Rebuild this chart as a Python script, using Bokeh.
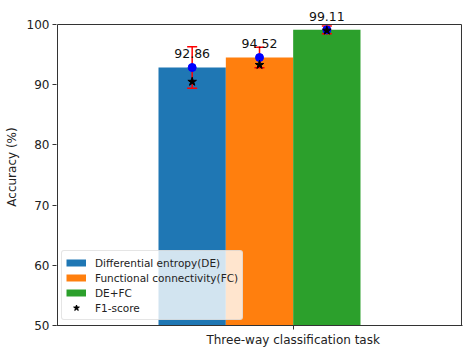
from bokeh.plotting import figure
from bokeh.models import ColumnDataSource, LabelSet, Legend, LegendItem, FixedTicker
from bokeh.core.properties import value
from bokeh.embed import file_html
from bokeh.resources import INLINE

methods = ["Differential entropy(DE)", "Functional connectivity(FC)", "DE+FC"]
positions = [0, 1, 2]
accuracy = [92.86, 94.52, 99.11]
acc_std = [3.45, 1.7, 0.65]
f1_score = [90.5, 93.3, 99.0]
colors = ["#1f77b4", "#ff7f0e", "#2ca02c"]
acc_labels = ["92.86", "94.52", "99.11"]
task_tick = 1.5
task_label = "Three-way classification task"
y_ticks = [50, 60, 70, 80, 90, 100]
x_lo, x_hi = -2, 4
y_lo, y_hi = 50, 100

src = ColumnDataSource(dict(
    x=positions, acc=accuracy, color=colors,
    upper=[a + s for a, s in zip(accuracy, acc_std)],
    lower=[a - s for a, s in zip(accuracy, acc_std)],
    f1=f1_score, lab=acc_labels,
    laby=[a + 1.5 for a in accuracy],
))

# frame extends a little above 100 so the top value label can be drawn; the
# visible box (50..100) is drawn with segments
p = figure(width=474, height=355,
           x_range=(x_lo - 1 / 67, x_hi + 1 / 67), y_range=(y_lo, 102.66),
           output_backend="svg", toolbar_location=None,
           min_border_left=56, min_border_right=12, min_border_top=8, min_border_bottom=30)
p.grid.visible = False
p.outline_line_color = None
p.background_fill_color = "white"

font = "DejaVu Sans"
for ax in (p.xaxis[0], p.yaxis[0]):
    ax.major_label_text_font = font
    ax.major_label_text_font_size = "12px"
    ax.major_label_text_color = "#222222"
    ax.axis_line_color = "#333333"
    ax.major_tick_line_color = "#333333"
    ax.major_tick_out = 4
    ax.major_tick_in = 0
    ax.minor_tick_line_color = None

p.yaxis.ticker = FixedTicker(ticks=y_ticks)
p.yaxis.axis_label = "Accuracy (%)"
p.yaxis.axis_label_text_font = font
p.yaxis.axis_label_text_font_size = "12px"
p.yaxis.axis_label_text_font_style = "normal"
p.yaxis.axis_label_text_color = "#222222"
p.yaxis.axis_label_standoff = 5
p.yaxis.major_label_standoff = 3
p.yaxis.axis_line_color = None

p.xaxis.ticker = FixedTicker(ticks=[task_tick])
p.xaxis.major_label_overrides = {task_tick: task_label}
p.xaxis.major_label_standoff = 3
p.xaxis.axis_label = None
p.xaxis.axis_label_standoff = 0

bars = []
for i in range(3):
    bars.append(p.vbar(x=[positions[i]], top=[accuracy[i]], bottom=0, width=1.0,
                       fill_color=colors[i], line_color=None))

# error bars: stem + caps
p.segment(x0="x", y0="lower", x1="x", y1="upper", source=src, line_color="red", line_width=1.5)
p.scatter(x="x", y="upper", source=src, marker="dash", size=10, line_color="red", line_width=1.5)
p.scatter(x="x", y="lower", source=src, marker="dash", size=10, line_color="red", line_width=1.5)

p.scatter(x="x", y="acc", source=src, marker="circle", size=8, fill_color="blue", line_color="blue")
star = p.scatter(x="x", y="f1", source=src, marker="star", size=9, fill_color="black", line_color="black")

labels = LabelSet(x="x", y="laby", text="lab", source=src, text_align="center",
                  text_baseline="bottom", text_font=value(font), text_font_size="12.5px",
                  text_color="#111111")
p.add_layout(labels)

# plot box (left, top, right) around the 50..100 region
p.segment(x0=[x_lo, x_lo, x_hi], y0=[y_lo, y_hi, y_lo], x1=[x_lo, x_hi, x_hi], y1=[y_hi, y_hi, y_hi],
          line_color="#333333", line_width=1)

# legend proxies (thick lines render as bar swatches)
proxies = [p.line(x=[float("nan")], y=[float("nan")], line_color=c, line_width=7, line_cap="butt")
           for c in colors]

legend = Legend(items=[
    LegendItem(label=methods[0], renderers=[proxies[0]]),
    LegendItem(label=methods[1], renderers=[proxies[1]]),
    LegendItem(label=methods[2], renderers=[proxies[2]]),
    LegendItem(label="F1-score", renderers=[star]),
], location="bottom_left")
legend.margin = 5
legend.padding = 4
legend.spacing = 0
legend.glyph_width = 20
legend.glyph_height = 15
legend.label_height = 15
legend.label_standoff = 9
legend.label_text_font = font
legend.label_text_font_size = "10.5px"
legend.label_text_color = "#222222"
legend.background_fill_color = "white"
legend.background_fill_alpha = 0.8
legend.border_line_color = "#cccccc"
legend.border_line_width = 1
legend.border_radius = 3
p.add_layout(legend)

open("out.html", "w").write(file_html(p, INLINE))
